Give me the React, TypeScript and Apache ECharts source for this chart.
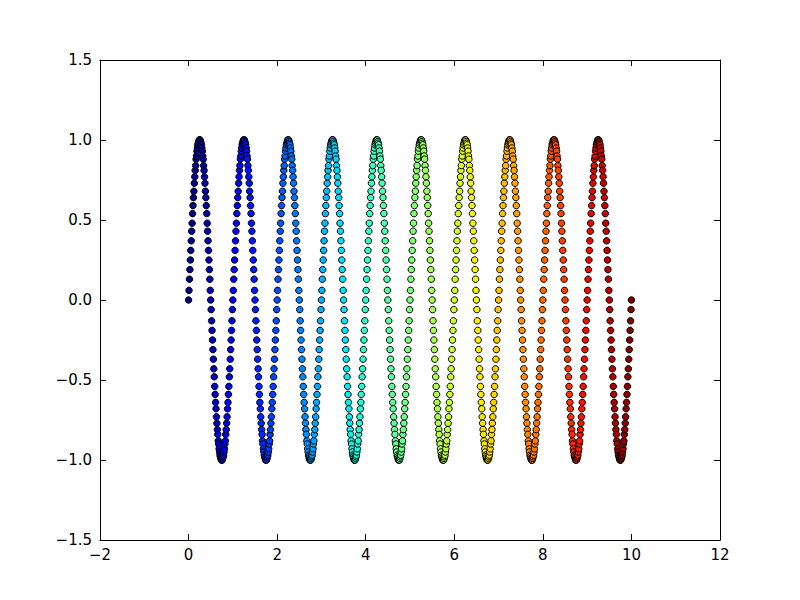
import React, { useEffect, useRef } from "react";
import * as echarts from "echarts";

// x positions of the dots (0 … 10)
const XS: number[] = [
0,.01,.02,.03,.04,.05,.06,.07,.08,.09,.1,.11,.12,.13,.14,.15,.16,.17,.18,.19,.2,.21,.22,.23,.24,.25,.26,.27,.28,.29,.3,.31,.32,.33,.34,.35,.36,.37,.38,.39,.4,.41,.42,.43,.44,.45,.46,.47,.48,.49,.5,.51,.52,.53,.54,.55,.56,.57,.58,.59,.6,.61,.62,.63,.64,.65,.66,.67,.68,.69,.7,.71,.72,.73,.74,.75,.76,.77,.78,.79,.8,.81,.82,.83,.84,.85,.86,.87,.88,.89,.9,.91,.92,.93,.94,.95,.96,.97,.98,.99,
1,1.01,1.02,1.03,1.04,1.05,1.06,1.07,1.08,1.09,1.1,1.11,1.12,1.13,1.14,1.15,1.16,1.17,1.18,1.19,1.2,1.21,1.22,1.23,1.24,1.25,1.26,1.27,1.28,1.29,1.3,1.31,1.32,1.33,1.34,1.35,1.36,1.37,1.38,1.39,1.4,1.41,1.42,1.43,1.44,1.45,1.46,1.47,1.48,1.49,1.5,1.51,1.52,1.53,1.54,1.55,1.56,1.57,1.58,1.59,1.6,1.61,1.62,1.63,1.64,1.65,1.66,1.67,1.68,1.69,1.7,1.71,1.72,1.73,1.74,1.75,1.76,1.77,1.78,1.79,1.8,1.81,1.82,1.83,1.84,1.85,1.86,1.87,1.88,1.89,1.9,1.91,1.92,1.93,1.94,1.95,1.96,1.97,1.98,1.99,
2,2.01,2.02,2.03,2.04,2.05,2.06,2.07,2.08,2.09,2.1,2.11,2.12,2.13,2.14,2.15,2.16,2.17,2.18,2.19,2.2,2.21,2.22,2.23,2.24,2.25,2.26,2.27,2.28,2.29,2.3,2.31,2.32,2.33,2.34,2.35,2.36,2.37,2.38,2.39,2.4,2.41,2.42,2.43,2.44,2.45,2.46,2.47,2.48,2.49,2.5,2.51,2.52,2.53,2.54,2.55,2.56,2.57,2.58,2.59,2.6,2.61,2.62,2.63,2.64,2.65,2.66,2.67,2.68,2.69,2.7,2.71,2.72,2.73,2.74,2.75,2.76,2.77,2.78,2.79,2.8,2.81,2.82,2.83,2.84,2.85,2.86,2.87,2.88,2.89,2.9,2.91,2.92,2.93,2.94,2.95,2.96,2.97,2.98,2.99,
3,3.01,3.02,3.03,3.04,3.05,3.06,3.07,3.08,3.09,3.1,3.11,3.12,3.13,3.14,3.15,3.16,3.17,3.18,3.19,3.2,3.21,3.22,3.23,3.24,3.25,3.26,3.27,3.28,3.29,3.3,3.31,3.32,3.33,3.34,3.35,3.36,3.37,3.38,3.39,3.4,3.41,3.42,3.43,3.44,3.45,3.46,3.47,3.48,3.49,3.5,3.51,3.52,3.53,3.54,3.55,3.56,3.57,3.58,3.59,3.6,3.61,3.62,3.63,3.64,3.65,3.66,3.67,3.68,3.69,3.7,3.71,3.72,3.73,3.74,3.75,3.76,3.77,3.78,3.79,3.8,3.81,3.82,3.83,3.84,3.85,3.86,3.87,3.88,3.89,3.9,3.91,3.92,3.93,3.94,3.95,3.96,3.97,3.98,3.99,
4,4.01,4.02,4.03,4.04,4.05,4.06,4.07,4.08,4.09,4.1,4.11,4.12,4.13,4.14,4.15,4.16,4.17,4.18,4.19,4.2,4.21,4.22,4.23,4.24,4.25,4.26,4.27,4.28,4.29,4.3,4.31,4.32,4.33,4.34,4.35,4.36,4.37,4.38,4.39,4.4,4.41,4.42,4.43,4.44,4.45,4.46,4.47,4.48,4.49,4.5,4.51,4.52,4.53,4.54,4.55,4.56,4.57,4.58,4.59,4.6,4.61,4.62,4.63,4.64,4.65,4.66,4.67,4.68,4.69,4.7,4.71,4.72,4.73,4.74,4.75,4.76,4.77,4.78,4.79,4.8,4.81,4.82,4.83,4.84,4.85,4.86,4.87,4.88,4.89,4.9,4.91,4.92,4.93,4.94,4.95,4.96,4.97,4.98,4.99,
5,5.01,5.02,5.03,5.04,5.05,5.06,5.07,5.08,5.09,5.1,5.11,5.12,5.13,5.14,5.15,5.16,5.17,5.18,5.19,5.2,5.21,5.22,5.23,5.24,5.25,5.26,5.27,5.28,5.29,5.3,5.31,5.32,5.33,5.34,5.35,5.36,5.37,5.38,5.39,5.4,5.41,5.42,5.43,5.44,5.45,5.46,5.47,5.48,5.49,5.5,5.51,5.52,5.53,5.54,5.55,5.56,5.57,5.58,5.59,5.6,5.61,5.62,5.63,5.64,5.65,5.66,5.67,5.68,5.69,5.7,5.71,5.72,5.73,5.74,5.75,5.76,5.77,5.78,5.79,5.8,5.81,5.82,5.83,5.84,5.85,5.86,5.87,5.88,5.89,5.9,5.91,5.92,5.93,5.94,5.95,5.96,5.97,5.98,5.99,
6,6.01,6.02,6.03,6.04,6.05,6.06,6.07,6.08,6.09,6.1,6.11,6.12,6.13,6.14,6.15,6.16,6.17,6.18,6.19,6.2,6.21,6.22,6.23,6.24,6.25,6.26,6.27,6.28,6.29,6.3,6.31,6.32,6.33,6.34,6.35,6.36,6.37,6.38,6.39,6.4,6.41,6.42,6.43,6.44,6.45,6.46,6.47,6.48,6.49,6.5,6.51,6.52,6.53,6.54,6.55,6.56,6.57,6.58,6.59,6.6,6.61,6.62,6.63,6.64,6.65,6.66,6.67,6.68,6.69,6.7,6.71,6.72,6.73,6.74,6.75,6.76,6.77,6.78,6.79,6.8,6.81,6.82,6.83,6.84,6.85,6.86,6.87,6.88,6.89,6.9,6.91,6.92,6.93,6.94,6.95,6.96,6.97,6.98,6.99,
7,7.01,7.02,7.03,7.04,7.05,7.06,7.07,7.08,7.09,7.1,7.11,7.12,7.13,7.14,7.15,7.16,7.17,7.18,7.19,7.2,7.21,7.22,7.23,7.24,7.25,7.26,7.27,7.28,7.29,7.3,7.31,7.32,7.33,7.34,7.35,7.36,7.37,7.38,7.39,7.4,7.41,7.42,7.43,7.44,7.45,7.46,7.47,7.48,7.49,7.5,7.51,7.52,7.53,7.54,7.55,7.56,7.57,7.58,7.59,7.6,7.61,7.62,7.63,7.64,7.65,7.66,7.67,7.68,7.69,7.7,7.71,7.72,7.73,7.74,7.75,7.76,7.77,7.78,7.79,7.8,7.81,7.82,7.83,7.84,7.85,7.86,7.87,7.88,7.89,7.9,7.91,7.92,7.93,7.94,7.95,7.96,7.97,7.98,7.99,
8,8.01,8.02,8.03,8.04,8.05,8.06,8.07,8.08,8.09,8.1,8.11,8.12,8.13,8.14,8.15,8.16,8.17,8.18,8.19,8.2,8.21,8.22,8.23,8.24,8.25,8.26,8.27,8.28,8.29,8.3,8.31,8.32,8.33,8.34,8.35,8.36,8.37,8.38,8.39,8.4,8.41,8.42,8.43,8.44,8.45,8.46,8.47,8.48,8.49,8.5,8.51,8.52,8.53,8.54,8.55,8.56,8.57,8.58,8.59,8.6,8.61,8.62,8.63,8.64,8.65,8.66,8.67,8.68,8.69,8.7,8.71,8.72,8.73,8.74,8.75,8.76,8.77,8.78,8.79,8.8,8.81,8.82,8.83,8.84,8.85,8.86,8.87,8.88,8.89,8.9,8.91,8.92,8.93,8.94,8.95,8.96,8.97,8.98,8.99,
9,9.01,9.02,9.03,9.04,9.05,9.06,9.07,9.08,9.09,9.1,9.11,9.12,9.13,9.14,9.15,9.16,9.17,9.18,9.19,9.2,9.21,9.22,9.23,9.24,9.25,9.26,9.27,9.28,9.29,9.3,9.31,9.32,9.33,9.34,9.35,9.36,9.37,9.38,9.39,9.4,9.41,9.42,9.43,9.44,9.45,9.46,9.47,9.48,9.49,9.5,9.51,9.52,9.53,9.54,9.55,9.56,9.57,9.58,9.59,9.6,9.61,9.62,9.63,9.64,9.65,9.66,9.67,9.68,9.69,9.7,9.71,9.72,9.73,9.74,9.75,9.76,9.77,9.78,9.79,9.8,9.81,9.82,9.83,9.84,9.85,9.86,9.87,9.88,9.89,9.9,9.91,9.92,9.93,9.94,9.95,9.96,9.97,9.98,9.99,
10,
];

// y values of the dots (one wave per unit of x)
const YS: number[] = [
0,.06,.13,.19,.25,.31,.37,.43,.48,.54,.59,.64,.68,.73,.77,.81,.84,.88,.9,.93,.95,.97,.98,.99,1,1,1,.99,.98,.97,.95,.93,.9,.88,.84,.81,.77,.73,.68,.64,.59,.54,.48,.43,.37,.31,.25,.19,.13,.06,
0,-.06,-.13,-.19,-.25,-.31,-.37,-.43,-.48,-.54,-.59,-.64,-.68,-.73,-.77,-.81,-.84,-.88,-.9,-.93,-.95,-.97,-.98,-.99,-1,-1,-1,-.99,-.98,-.97,-.95,-.93,-.9,-.88,-.84,-.81,-.77,-.73,-.68,-.64,-.59,-.54,-.48,-.43,-.37,-.31,-.25,-.19,-.13,-.06,
0,.06,.13,.19,.25,.31,.37,.43,.48,.54,.59,.64,.68,.73,.77,.81,.84,.88,.9,.93,.95,.97,.98,.99,1,1,1,.99,.98,.97,.95,.93,.9,.88,.84,.81,.77,.73,.68,.64,.59,.54,.48,.43,.37,.31,.25,.19,.13,.06,
0,-.06,-.13,-.19,-.25,-.31,-.37,-.43,-.48,-.54,-.59,-.64,-.68,-.73,-.77,-.81,-.84,-.88,-.9,-.93,-.95,-.97,-.98,-.99,-1,-1,-1,-.99,-.98,-.97,-.95,-.93,-.9,-.88,-.84,-.81,-.77,-.73,-.68,-.64,-.59,-.54,-.48,-.43,-.37,-.31,-.25,-.19,-.13,-.06,
0,.06,.13,.19,.25,.31,.37,.43,.48,.54,.59,.64,.68,.73,.77,.81,.84,.88,.9,.93,.95,.97,.98,.99,1,1,1,.99,.98,.97,.95,.93,.9,.88,.84,.81,.77,.73,.68,.64,.59,.54,.48,.43,.37,.31,.25,.19,.13,.06,
0,-.06,-.13,-.19,-.25,-.31,-.37,-.43,-.48,-.54,-.59,-.64,-.68,-.73,-.77,-.81,-.84,-.88,-.9,-.93,-.95,-.97,-.98,-.99,-1,-1,-1,-.99,-.98,-.97,-.95,-.93,-.9,-.88,-.84,-.81,-.77,-.73,-.68,-.64,-.59,-.54,-.48,-.43,-.37,-.31,-.25,-.19,-.13,-.06,
0,.06,.13,.19,.25,.31,.37,.43,.48,.54,.59,.64,.68,.73,.77,.81,.84,.88,.9,.93,.95,.97,.98,.99,1,1,1,.99,.98,.97,.95,.93,.9,.88,.84,.81,.77,.73,.68,.64,.59,.54,.48,.43,.37,.31,.25,.19,.13,.06,
0,-.06,-.13,-.19,-.25,-.31,-.37,-.43,-.48,-.54,-.59,-.64,-.68,-.73,-.77,-.81,-.84,-.88,-.9,-.93,-.95,-.97,-.98,-.99,-1,-1,-1,-.99,-.98,-.97,-.95,-.93,-.9,-.88,-.84,-.81,-.77,-.73,-.68,-.64,-.59,-.54,-.48,-.43,-.37,-.31,-.25,-.19,-.13,-.06,
0,.06,.13,.19,.25,.31,.37,.43,.48,.54,.59,.64,.68,.73,.77,.81,.84,.88,.9,.93,.95,.97,.98,.99,1,1,1,.99,.98,.97,.95,.93,.9,.88,.84,.81,.77,.73,.68,.64,.59,.54,.48,.43,.37,.31,.25,.19,.13,.06,
0,-.06,-.13,-.19,-.25,-.31,-.37,-.43,-.48,-.54,-.59,-.64,-.68,-.73,-.77,-.81,-.84,-.88,-.9,-.93,-.95,-.97,-.98,-.99,-1,-1,-1,-.99,-.98,-.97,-.95,-.93,-.9,-.88,-.84,-.81,-.77,-.73,-.68,-.64,-.59,-.54,-.48,-.43,-.37,-.31,-.25,-.19,-.13,-.06,
0,.06,.13,.19,.25,.31,.37,.43,.48,.54,.59,.64,.68,.73,.77,.81,.84,.88,.9,.93,.95,.97,.98,.99,1,1,1,.99,.98,.97,.95,.93,.9,.88,.84,.81,.77,.73,.68,.64,.59,.54,.48,.43,.37,.31,.25,.19,.13,.06,
0,-.06,-.13,-.19,-.25,-.31,-.37,-.43,-.48,-.54,-.59,-.64,-.68,-.73,-.77,-.81,-.84,-.88,-.9,-.93,-.95,-.97,-.98,-.99,-1,-1,-1,-.99,-.98,-.97,-.95,-.93,-.9,-.88,-.84,-.81,-.77,-.73,-.68,-.64,-.59,-.54,-.48,-.43,-.37,-.31,-.25,-.19,-.13,-.06,
0,.06,.13,.19,.25,.31,.37,.43,.48,.54,.59,.64,.68,.73,.77,.81,.84,.88,.9,.93,.95,.97,.98,.99,1,1,1,.99,.98,.97,.95,.93,.9,.88,.84,.81,.77,.73,.68,.64,.59,.54,.48,.43,.37,.31,.25,.19,.13,.06,
0,-.06,-.13,-.19,-.25,-.31,-.37,-.43,-.48,-.54,-.59,-.64,-.68,-.73,-.77,-.81,-.84,-.88,-.9,-.93,-.95,-.97,-.98,-.99,-1,-1,-1,-.99,-.98,-.97,-.95,-.93,-.9,-.88,-.84,-.81,-.77,-.73,-.68,-.64,-.59,-.54,-.48,-.43,-.37,-.31,-.25,-.19,-.13,-.06,
0,.06,.13,.19,.25,.31,.37,.43,.48,.54,.59,.64,.68,.73,.77,.81,.84,.88,.9,.93,.95,.97,.98,.99,1,1,1,.99,.98,.97,.95,.93,.9,.88,.84,.81,.77,.73,.68,.64,.59,.54,.48,.43,.37,.31,.25,.19,.13,.06,
0,-.06,-.13,-.19,-.25,-.31,-.37,-.43,-.48,-.54,-.59,-.64,-.68,-.73,-.77,-.81,-.84,-.88,-.9,-.93,-.95,-.97,-.98,-.99,-1,-1,-1,-.99,-.98,-.97,-.95,-.93,-.9,-.88,-.84,-.81,-.77,-.73,-.68,-.64,-.59,-.54,-.48,-.43,-.37,-.31,-.25,-.19,-.13,-.06,
0,.06,.13,.19,.25,.31,.37,.43,.48,.54,.59,.64,.68,.73,.77,.81,.84,.88,.9,.93,.95,.97,.98,.99,1,1,1,.99,.98,.97,.95,.93,.9,.88,.84,.81,.77,.73,.68,.64,.59,.54,.48,.43,.37,.31,.25,.19,.13,.06,
0,-.06,-.13,-.19,-.25,-.31,-.37,-.43,-.48,-.54,-.59,-.64,-.68,-.73,-.77,-.81,-.84,-.88,-.9,-.93,-.95,-.97,-.98,-.99,-1,-1,-1,-.99,-.98,-.97,-.95,-.93,-.9,-.88,-.84,-.81,-.77,-.73,-.68,-.64,-.59,-.54,-.48,-.43,-.37,-.31,-.25,-.19,-.13,-.06,
0,.06,.13,.19,.25,.31,.37,.43,.48,.54,.59,.64,.68,.73,.77,.81,.84,.88,.9,.93,.95,.97,.98,.99,1,1,1,.99,.98,.97,.95,.93,.9,.88,.84,.81,.77,.73,.68,.64,.59,.54,.48,.43,.37,.31,.25,.19,.13,.06,
0,-.06,-.13,-.19,-.25,-.31,-.37,-.43,-.48,-.54,-.59,-.64,-.68,-.73,-.77,-.81,-.84,-.88,-.9,-.93,-.95,-.97,-.98,-.99,-1,-1,-1,-.99,-.98,-.97,-.95,-.93,-.9,-.88,-.84,-.81,-.77,-.73,-.68,-.64,-.59,-.54,-.48,-.43,-.37,-.31,-.25,-.19,-.13,-.06,
0,
];

// "jet" colour map, evenly spaced stops from x = 0 to x = 10
const JET: string[] = [
  "#000080", "#0000b9", "#0000f3", "#001aff", "#004dff", "#0080ff", "#00b3ff",
  "#00e6f7", "#29ffce", "#52ffa4", "#7bff7b", "#a4ff52", "#ceff29", "#f7f500",
  "#ffc600", "#ff9700", "#ff6800", "#ff3900", "#f30900", "#b90000", "#800000",
];

const X_MIN = -2;
const X_MAX = 12;
const X_STEP = 2;
const Y_MIN = -1.5;
const Y_MAX = 1.5;
const Y_STEP = 0.5;

const FONT = "DejaVu Sans";
const fmtMinus = (s: string) => s.replace("-", "\u2212");

export default function App() {
  const ref = useRef<HTMLDivElement>(null);

  useEffect(() => {
    if (!ref.current) return;
    const chart = echarts.init(ref.current, undefined, { renderer: "svg" });
    const data = XS.map((x, i) => [x, YS[i]]);

    const tick = { show: true, inside: true, length: 6, lineStyle: { color: "#000", width: 1 } };
    const line = { show: true, onZero: false, lineStyle: { color: "#000", width: 1 } };
    const label = { color: "#000", fontFamily: FONT, fontSize: 15 };

    chart.setOption({
      animation: false,
      backgroundColor: "#fff",
      grid: { left: 100, right: 80, top: 60, bottom: 60, containLabel: false },
      xAxis: [
        {
          type: "value", position: "bottom", min: X_MIN, max: X_MAX, interval: X_STEP,
          axisLine: line, axisTick: tick, splitLine: { show: false },
          axisLabel: { ...label, margin: 7, formatter: (v: number) => fmtMinus(String(v)) },
        },
        {
          type: "value", position: "top", min: X_MIN, max: X_MAX, interval: X_STEP,
          axisLine: line, axisTick: tick, splitLine: { show: false }, axisLabel: { show: false },
        },
      ],
      yAxis: [
        {
          type: "value", position: "left", min: Y_MIN, max: Y_MAX, interval: Y_STEP,
          axisLine: line, axisTick: tick, splitLine: { show: false },
          axisLabel: { ...label, margin: 8, formatter: (v: number) => fmtMinus(v.toFixed(1)) },
        },
        {
          type: "value", position: "right", min: Y_MIN, max: Y_MAX, interval: Y_STEP,
          axisLine: line, axisTick: tick, splitLine: { show: false }, axisLabel: { show: false },
        },
      ],
      visualMap: {
        type: "continuous", show: false, dimension: 0, min: 0, max: 10, seriesIndex: 0,
        inRange: { color: JET },
      },
      series: [
        {
          type: "scatter", xAxisIndex: 0, yAxisIndex: 0, data,
          symbol: "circle", symbolSize: 6.5, progressive: 0, large: false,
          itemStyle: { borderColor: "#000", borderWidth: 1, opacity: 1 },
          emphasis: { disabled: true },
        },
      ],
    });
    return () => chart.dispose();
  }, []);

  return (
    <div
      ref={ref}
      style={{ position: "absolute", left: 0, top: 0, width: 800, height: 600, background: "#fff" }}
    />
  );
}
